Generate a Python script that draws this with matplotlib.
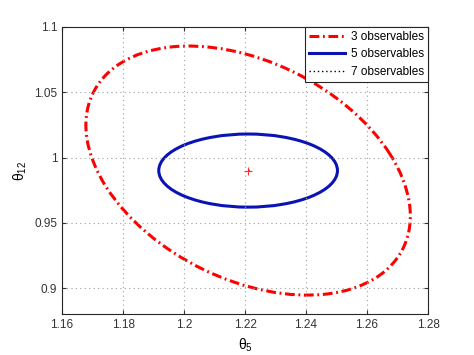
import numpy as np
import matplotlib.pyplot as plt
from matplotlib.patches import Ellipse
from matplotlib.lines import Line2D

plt.rcParams['font.family'] = ['Liberation Sans', 'DejaVu Sans']

# Estimacion: centro y regiones de confianza (semiejes en x, y y correlacion)
centro = (1.221, 0.990)
series = ['3 observables', '5 observables', '7 observables']
semi_x = [0.0532, 0.0293, 0.0004]
semi_y = [0.0954, 0.0280, 0.0004]
rho = [-0.365, 0.0, 0.0]

colores = ['#ff0000', '#0a14b4', 'k']
estilos = [(0, (3.2, 1.2, 0.6, 1.2)), '-', (0, (1, 2))]
anchos = [2.2, 2.2, 1.0]


def elipse(sx, sy, r, **kw):
    # matriz de covarianza -> ancho, alto y angulo del parche
    cov = np.array([[sx**2, r*sx*sy], [r*sx*sy, sy**2]])
    val, vec = np.linalg.eigh(cov)
    ang = np.degrees(np.arctan2(vec[1, 1], vec[0, 1]))
    return Ellipse(centro, 2*np.sqrt(val[1]), 2*np.sqrt(val[0]), angle=ang,
                   fill=False, **kw)


fig = plt.figure(figsize=(4.74, 3.55), dpi=100)
ax = fig.add_axes([0.131, 0.115, 0.772, 0.809])

handles = []
for i in range(3):
    ax.add_patch(elipse(semi_x[i], semi_y[i], rho[i], edgecolor=colores[i],
                        linestyle=estilos[i], linewidth=anchos[i]))
    handles.append(Line2D([], [], color=colores[i], linestyle=estilos[i],
                          linewidth=anchos[i], label=series[i]))

ax.plot(centro[0], centro[1], '+', color='#ff3030', markersize=6, markeredgewidth=0.8)

ax.set_xlim(1.16, 1.28)
ax.set_ylim(0.88, 1.1)
ax.set_xticks([1.16, 1.18, 1.2, 1.22, 1.24, 1.26, 1.28])
ax.set_xticklabels(['1.16', '1.18', '1.2', '1.22', '1.24', '1.26', '1.28'])
ax.set_yticks([0.9, 0.95, 1.0, 1.05, 1.1])
ax.set_yticklabels(['0.9', '0.95', '1', '1.05', '1.1'])
ax.tick_params(direction='in', length=3, labelsize=8.5, top=True, right=True,
               colors='#333333')
ax.grid(True, linestyle=(0, (1, 3)), color='#a0a0a0', linewidth=0.8)
for s in ax.spines.values():
    s.set_color('#262626')

ax.set_xlabel(r'$\mathregular{\theta_5}$', fontsize=10)
ax.set_ylabel(r'$\mathregular{\theta_{12}}$', fontsize=10)

leg = ax.legend(handles=handles, loc='upper right', fontsize=8.5, fancybox=False,
                edgecolor='#262626', framealpha=1, borderaxespad=0,
                handlelength=3.0, borderpad=0.35, labelspacing=0.45,
                handletextpad=0.5)
leg.get_frame().set_linewidth(0.8)

fig.savefig('out.png', dpi=100)
